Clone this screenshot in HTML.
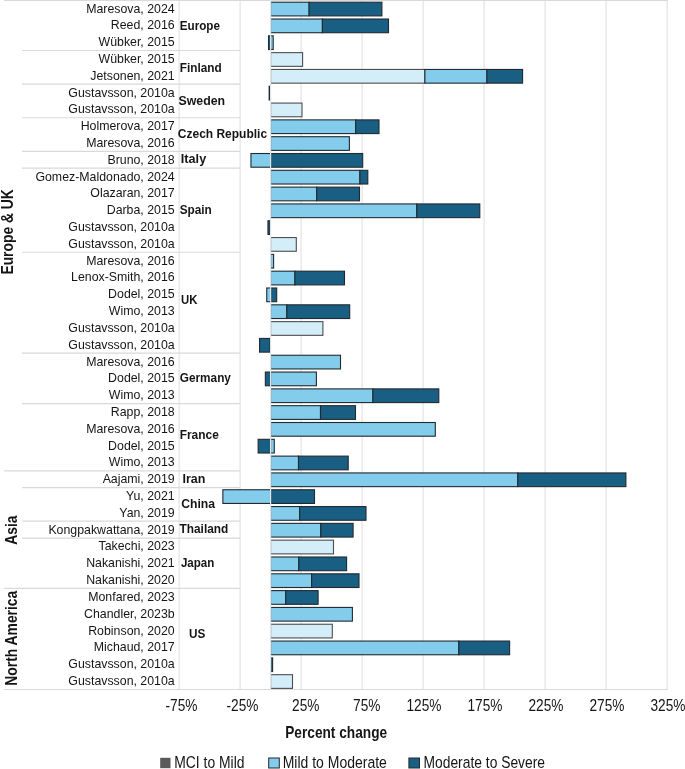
<!DOCTYPE html>
<html lang="en"><head><meta charset="utf-8"><title>Percent change chart</title>
<style>html,body{margin:0;padding:0;background:#fff}body{width:685px;height:769px;overflow:hidden}svg{display:block}text{font-family:"Liberation Sans",Arial,sans-serif;fill:#151515}</style></head><body>
<svg width="685" height="769" viewBox="0 0 685 769">
<rect width="685" height="769" fill="#fff"/>
<g stroke="#e3e3e3" stroke-width="1.2">
<line x1="179.10" y1="0.05" x2="179.10" y2="689.34"/>
<line x1="240.10" y1="0.05" x2="240.10" y2="689.34"/>
<line x1="301.10" y1="0.05" x2="301.10" y2="689.34"/>
<line x1="362.10" y1="0.05" x2="362.10" y2="689.34"/>
<line x1="423.10" y1="0.05" x2="423.10" y2="689.34"/>
<line x1="484.10" y1="0.05" x2="484.10" y2="689.34"/>
<line x1="545.10" y1="0.05" x2="545.10" y2="689.34"/>
<line x1="606.10" y1="0.05" x2="606.10" y2="689.34"/>
<line x1="667.10" y1="0.05" x2="667.10" y2="689.34"/>
</g>
<g stroke="#d9d9d9" stroke-width="1.2">
<line x1="4" y1="0.5" x2="667.7" y2="0.5"/>
<line x1="4" y1="689.5" x2="667.7" y2="689.5"/>
<line x1="22" y1="50.49" x2="240.1" y2="50.49"/>
<line x1="22" y1="84.11" x2="240.1" y2="84.11"/>
<line x1="22" y1="117.73" x2="240.1" y2="117.73"/>
<line x1="22" y1="151.36" x2="240.1" y2="151.36"/>
<line x1="22" y1="168.17" x2="240.1" y2="168.17"/>
<line x1="22" y1="252.23" x2="240.1" y2="252.23"/>
<line x1="22" y1="353.10" x2="240.1" y2="353.10"/>
<line x1="22" y1="403.54" x2="240.1" y2="403.54"/>
<line x1="4" y1="470.79" x2="240.1" y2="470.79"/>
<line x1="22" y1="487.60" x2="240.1" y2="487.60"/>
<line x1="22" y1="521.22" x2="240.1" y2="521.22"/>
<line x1="22" y1="538.03" x2="240.1" y2="538.03"/>
<line x1="4" y1="588.47" x2="240.1" y2="588.47"/>
</g>
<g stroke="#222a2f" stroke-width="1.1">
<rect x="270.60" y="2.20" width="38.50" height="13.7" fill="#83cceb"/>
<rect x="309.10" y="2.20" width="72.80" height="13.7" fill="#185f83"/>
<rect x="270.60" y="19.01" width="51.80" height="13.7" fill="#83cceb"/>
<rect x="322.40" y="19.01" width="66.10" height="13.7" fill="#185f83"/>
<rect x="268.55" y="35.82" width="2.05" height="13.7" fill="#185f83"/>
<rect x="270.60" y="35.82" width="2.60" height="13.7" fill="#83cceb"/>
<rect x="270.60" y="52.64" width="32.00" height="13.7" fill="#d3edf9" stroke="#4d4d4d"/>
<rect x="270.60" y="69.45" width="154.30" height="13.7" fill="#d3edf9" stroke="#4d4d4d"/>
<rect x="424.90" y="69.45" width="62.00" height="13.7" fill="#83cceb"/>
<rect x="486.90" y="69.45" width="35.70" height="13.7" fill="#185f83"/>
<rect x="269.15" y="86.26" width="0.85" height="13.7" fill="#185f83"/>
<rect x="270.60" y="103.07" width="31.40" height="13.7" fill="#d3edf9" stroke="#4d4d4d"/>
<rect x="270.60" y="119.88" width="85.10" height="13.7" fill="#83cceb"/>
<rect x="355.70" y="119.88" width="23.30" height="13.7" fill="#185f83"/>
<rect x="270.60" y="136.70" width="78.80" height="13.7" fill="#83cceb"/>
<rect x="250.95" y="153.51" width="19.65" height="13.7" fill="#83cceb"/>
<rect x="270.60" y="153.51" width="92.10" height="13.7" fill="#185f83"/>
<rect x="270.60" y="170.32" width="89.30" height="13.7" fill="#83cceb"/>
<rect x="359.90" y="170.32" width="7.90" height="13.7" fill="#185f83"/>
<rect x="270.60" y="187.13" width="46.10" height="13.7" fill="#83cceb"/>
<rect x="316.70" y="187.13" width="42.80" height="13.7" fill="#185f83"/>
<rect x="270.60" y="203.94" width="146.20" height="13.7" fill="#83cceb"/>
<rect x="416.80" y="203.94" width="63.00" height="13.7" fill="#185f83"/>
<rect x="267.95" y="220.76" width="2.05" height="13.7" fill="#185f83"/>
<rect x="270.60" y="237.57" width="25.70" height="13.7" fill="#d3edf9" stroke="#4d4d4d"/>
<rect x="270.60" y="254.38" width="3.00" height="13.7" fill="#83cceb"/>
<rect x="270.60" y="271.19" width="24.30" height="13.7" fill="#83cceb"/>
<rect x="294.90" y="271.19" width="49.60" height="13.7" fill="#185f83"/>
<rect x="266.75" y="288.00" width="3.85" height="13.7" fill="#83cceb"/>
<rect x="270.60" y="288.00" width="6.10" height="13.7" fill="#185f83"/>
<rect x="270.60" y="304.82" width="16.20" height="13.7" fill="#83cceb"/>
<rect x="286.80" y="304.82" width="62.90" height="13.7" fill="#185f83"/>
<rect x="270.60" y="321.63" width="52.30" height="13.7" fill="#d3edf9" stroke="#4d4d4d"/>
<rect x="259.55" y="338.44" width="10.45" height="13.7" fill="#185f83"/>
<rect x="270.60" y="355.25" width="69.90" height="13.7" fill="#83cceb"/>
<rect x="265.35" y="372.06" width="5.25" height="13.7" fill="#185f83"/>
<rect x="270.60" y="372.06" width="45.80" height="13.7" fill="#83cceb"/>
<rect x="270.60" y="388.88" width="102.30" height="13.7" fill="#83cceb"/>
<rect x="372.90" y="388.88" width="65.90" height="13.7" fill="#185f83"/>
<rect x="270.60" y="405.69" width="49.90" height="13.7" fill="#83cceb"/>
<rect x="320.50" y="405.69" width="35.00" height="13.7" fill="#185f83"/>
<rect x="270.60" y="422.50" width="164.70" height="13.7" fill="#83cceb"/>
<rect x="258.15" y="439.31" width="12.45" height="13.7" fill="#185f83"/>
<rect x="270.60" y="439.31" width="3.70" height="13.7" fill="#83cceb"/>
<rect x="270.60" y="456.12" width="27.90" height="13.7" fill="#83cceb"/>
<rect x="298.50" y="456.12" width="49.70" height="13.7" fill="#185f83"/>
<rect x="270.60" y="472.94" width="247.20" height="13.7" fill="#83cceb"/>
<rect x="517.80" y="472.94" width="108.10" height="13.7" fill="#185f83"/>
<rect x="222.85" y="489.75" width="47.75" height="13.7" fill="#83cceb"/>
<rect x="270.60" y="489.75" width="43.90" height="13.7" fill="#185f83"/>
<rect x="270.60" y="506.56" width="29.10" height="13.7" fill="#83cceb"/>
<rect x="299.70" y="506.56" width="66.30" height="13.7" fill="#185f83"/>
<rect x="270.60" y="523.37" width="50.20" height="13.7" fill="#83cceb"/>
<rect x="320.80" y="523.37" width="32.30" height="13.7" fill="#185f83"/>
<rect x="270.60" y="540.18" width="62.90" height="13.7" fill="#d3edf9" stroke="#4d4d4d"/>
<rect x="270.60" y="557.00" width="28.20" height="13.7" fill="#83cceb"/>
<rect x="298.80" y="557.00" width="47.80" height="13.7" fill="#185f83"/>
<rect x="270.60" y="573.81" width="41.00" height="13.7" fill="#83cceb"/>
<rect x="311.60" y="573.81" width="47.40" height="13.7" fill="#185f83"/>
<rect x="270.60" y="590.62" width="15.10" height="13.7" fill="#83cceb"/>
<rect x="285.70" y="590.62" width="32.40" height="13.7" fill="#185f83"/>
<rect x="270.60" y="607.43" width="81.80" height="13.7" fill="#83cceb"/>
<rect x="270.60" y="624.24" width="61.70" height="13.7" fill="#d3edf9" stroke="#4d4d4d"/>
<rect x="270.60" y="641.06" width="188.20" height="13.7" fill="#83cceb"/>
<rect x="458.80" y="641.06" width="50.80" height="13.7" fill="#185f83"/>
<rect x="270.60" y="657.87" width="2.00" height="13.7" fill="#185f83"/>
<rect x="270.60" y="674.68" width="21.90" height="13.7" fill="#d3edf9" stroke="#4d4d4d"/>
</g>
<line x1="270.60" y1="0.05" x2="270.60" y2="689.34" stroke="#e3e3e3" stroke-width="1.2"/>
<g font-size="12.35" text-anchor="end">
<text x="174.7" y="12.50">Maresova, 2024</text>
<text x="174.7" y="29.31">Reed, 2016</text>
<text x="174.7" y="46.12">Wübker, 2015</text>
<text x="174.7" y="62.94">Wübker, 2015</text>
<text x="174.7" y="79.75">Jetsonen, 2021</text>
<text x="174.7" y="96.56">Gustavsson, 2010a</text>
<text x="174.7" y="113.37">Gustavsson, 2010a</text>
<text x="174.7" y="130.18">Holmerova, 2017</text>
<text x="174.7" y="147.00">Maresova, 2016</text>
<text x="174.7" y="163.81">Bruno, 2018</text>
<text x="174.7" y="180.62">Gomez-Maldonado, 2024</text>
<text x="174.7" y="197.43">Olazaran, 2017</text>
<text x="174.7" y="214.24">Darba, 2015</text>
<text x="174.7" y="231.06">Gustavsson, 2010a</text>
<text x="174.7" y="247.87">Gustavsson, 2010a</text>
<text x="174.7" y="264.68">Maresova, 2016</text>
<text x="174.7" y="281.49">Lenox-Smith, 2016</text>
<text x="174.7" y="298.30">Dodel, 2015</text>
<text x="174.7" y="315.12">Wimo, 2013</text>
<text x="174.7" y="331.93">Gustavsson, 2010a</text>
<text x="174.7" y="348.74">Gustavsson, 2010a</text>
<text x="174.7" y="365.55">Maresova, 2016</text>
<text x="174.7" y="382.36">Dodel, 2015</text>
<text x="174.7" y="399.18">Wimo, 2013</text>
<text x="174.7" y="415.99">Rapp, 2018</text>
<text x="174.7" y="432.80">Maresova, 2016</text>
<text x="174.7" y="449.61">Dodel, 2015</text>
<text x="174.7" y="466.42">Wimo, 2013</text>
<text x="174.7" y="483.24">Aajami, 2019</text>
<text x="174.7" y="500.05">Yu, 2021</text>
<text x="174.7" y="516.86">Yan, 2019</text>
<text x="174.7" y="533.67">Kongpakwattana, 2019</text>
<text x="174.7" y="550.48">Takechi, 2023</text>
<text x="174.7" y="567.30">Nakanishi, 2021</text>
<text x="174.7" y="584.11">Nakanishi, 2020</text>
<text x="174.7" y="600.92">Monfared, 2023</text>
<text x="174.7" y="617.73">Chandler, 2023b</text>
<text x="174.7" y="634.54">Robinson, 2020</text>
<text x="174.7" y="651.36">Michaud, 2017</text>
<text x="174.7" y="668.17">Gustavsson, 2010a</text>
<text x="174.7" y="684.98">Gustavsson, 2010a</text>
</g>
<text transform="translate(179.76,29.90) scale(0.9742,1)" font-size="12" font-weight="bold">Europe</text>
<text transform="translate(179.76,72.30) scale(0.9837,1)" font-size="12" font-weight="bold">Finland</text>
<text transform="translate(178.52,104.70) scale(1.0278,1)" font-size="12" font-weight="bold">Sweden</text>
<text transform="translate(177.84,137.90) scale(0.9995,1)" font-size="12" font-weight="bold">Czech Republic</text>
<text transform="translate(180.86,163.10) scale(1.0545,1)" font-size="12" font-weight="bold">Italy</text>
<text transform="translate(179.64,214.10) scale(0.9859,1)" font-size="12" font-weight="bold">Spain</text>
<text transform="translate(181.10,303.90) scale(0.9463,1)" font-size="12" font-weight="bold">UK</text>
<text transform="translate(179.76,381.60) scale(0.9842,1)" font-size="12" font-weight="bold">Germany</text>
<text transform="translate(179.64,438.50) scale(0.9966,1)" font-size="12" font-weight="bold">France</text>
<text transform="translate(182.52,483.10) scale(1.0419,1)" font-size="12" font-weight="bold">Iran</text>
<text transform="translate(181.20,507.80) scale(1.0158,1)" font-size="12" font-weight="bold">China</text>
<text transform="translate(179.54,533.40) scale(0.9888,1)" font-size="12" font-weight="bold">Thailand</text>
<text transform="translate(180.88,566.70) scale(0.9643,1)" font-size="12" font-weight="bold">Japan</text>
<text transform="translate(189.12,638.10) scale(0.9805,1)" font-size="12" font-weight="bold">US</text>
<text transform="translate(13.3,231.90) rotate(-90) scale(0.83,1)" font-size="16.7" font-weight="bold" text-anchor="middle">Europe & UK</text>
<text transform="translate(17.1,530.20) rotate(-90) scale(0.83,1)" font-size="16.7" font-weight="bold" text-anchor="middle">Asia</text>
<text transform="translate(17.1,638.20) rotate(-90) scale(0.83,1)" font-size="16.7" font-weight="bold" text-anchor="middle">North America</text>
<text transform="translate(197.50,711.0) scale(0.82,1)" font-size="16.7" text-anchor="end">-75%</text>
<text transform="translate(258.50,711.0) scale(0.82,1)" font-size="16.7" text-anchor="end">-25%</text>
<text transform="translate(319.50,711.0) scale(0.82,1)" font-size="16.7" text-anchor="end">25%</text>
<text transform="translate(380.50,711.0) scale(0.82,1)" font-size="16.7" text-anchor="end">75%</text>
<text transform="translate(441.50,711.0) scale(0.82,1)" font-size="16.7" text-anchor="end">125%</text>
<text transform="translate(502.50,711.0) scale(0.82,1)" font-size="16.7" text-anchor="end">175%</text>
<text transform="translate(563.50,711.0) scale(0.82,1)" font-size="16.7" text-anchor="end">225%</text>
<text transform="translate(624.50,711.0) scale(0.82,1)" font-size="16.7" text-anchor="end">275%</text>
<text transform="translate(685.50,711.0) scale(0.82,1)" font-size="16.7" text-anchor="end">325%</text>
<text transform="translate(285.2,737.8) scale(0.82,1)" font-size="16.7" font-weight="bold">Percent change</text>
<rect x="160.2" y="757.8" width="10.3" height="10.4" fill="#5a5a5a"/>
<text transform="translate(174.2,767.9) scale(0.832,1)" font-size="16.7">MCI to Mild</text>
<rect x="268.7" y="758" width="10.6" height="10" fill="#83cceb" stroke="#222a2f" stroke-width="1"/>
<text transform="translate(282.7,767.9) scale(0.838,1)" font-size="16.7">Mild to Moderate</text>
<rect x="408.9" y="758" width="10.6" height="10" fill="#185f83" stroke="#222a2f" stroke-width="1"/>
<text transform="translate(423.5,767.9) scale(0.829,1)" font-size="16.7">Moderate to Severe</text>
</svg></body></html>
